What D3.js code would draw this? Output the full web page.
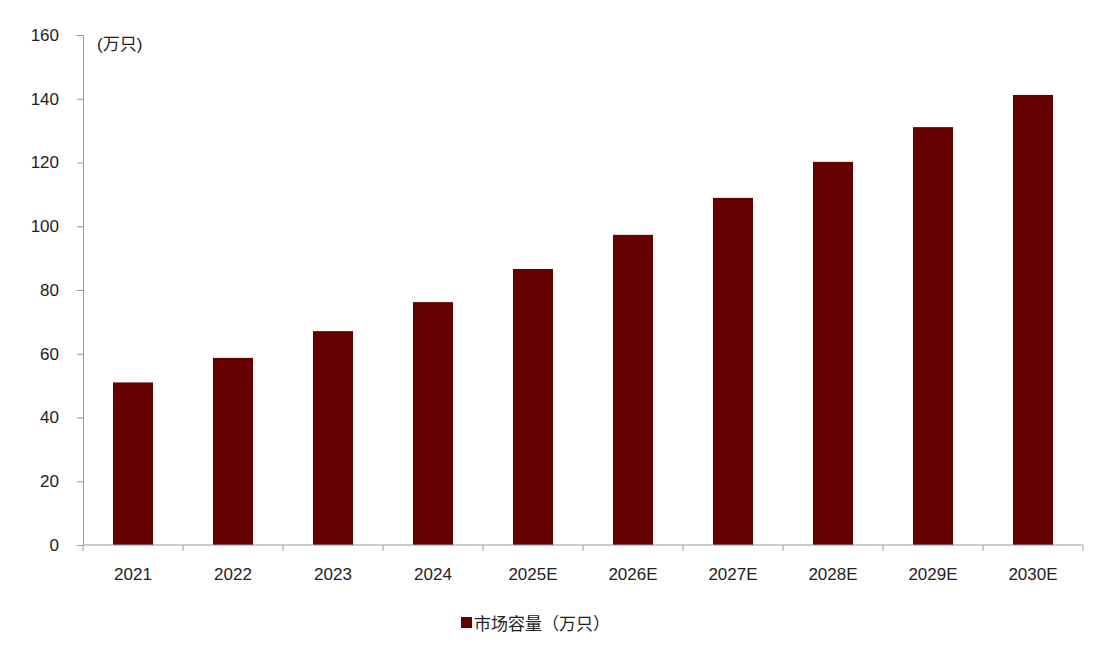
<!DOCTYPE html>
<html><head><meta charset="utf-8">
<script src="https://cdn.jsdelivr.net/npm/d3@7"></script>
<style>body{margin:0;background:#fff;}text{font-family:Arial,"Liberation Sans","Noto Sans CJK SC",sans-serif;}</style>
</head><body><svg id="c" width="1095" height="648"></svg>
<script>
const categories=["2021","2022","2023","2024","2025E","2026E","2027E","2028E","2029E","2030E"];
const values=[51,58.7,67.1,76.2,86.6,97.3,108.9,120.2,131.1,141.2];
const yTicks=[0,20,40,60,80,100,120,140,160];
const seriesName="市场容量（万只）";
const unitLabel="(万只)";
const color="#660000";
const svg=d3.select("#c");
const L=83,R=1083,T=35,B=545;
const x=d3.scaleBand().domain(categories).range([L,R]).paddingInner(0.6).paddingOuter(0.3);
const xb=d3.scaleBand().domain(categories).range([L,R]);
const y=d3.scaleLinear().domain([0,160]).range([B,T]);
svg.selectAll("rect.bar").data(values).join("rect").attr("class","bar")
 .attr("x",(d,i)=>xb(categories[i])+xb.bandwidth()/2-20).attr("width",40)
 .attr("y",d=>y(d)).attr("height",d=>B-y(d)).attr("fill",color);
const ax=svg.append("g").attr("transform",`translate(${L},0)`).call(d3.axisLeft(y).tickValues(yTicks).tickSize(6).tickPadding(18));
ax.selectAll("text").attr("font-size",17).attr("fill","#222");
ax.selectAll("line,path").attr("stroke","#999");
const gx=svg.append("g").attr("transform",`translate(0,${B})`);
gx.append("line").attr("x1",L).attr("x2",R).attr("stroke","#999");
gx.selectAll("line.t").data(d3.range(categories.length+1)).join("line").attr("class","t")
 .attr("x1",i=>L+i*xb.step()).attr("x2",i=>L+i*xb.step()).attr("y1",0).attr("y2",6).attr("stroke","#999");
gx.selectAll("text").data(categories).join("text").attr("x",d=>xb(d)+xb.bandwidth()/2).attr("y",35)
 .attr("text-anchor","middle").attr("font-size",17).attr("fill","#222").text(d=>d);
svg.append("text").attr("x",97).attr("y",50).attr("font-size",17).attr("fill","#222").text(unitLabel);
const lg=svg.append("g");
lg.append("rect").attr("x",461).attr("y",617).attr("width",11).attr("height",11).attr("fill",color);
lg.append("text").attr("x",474).attr("y",630).attr("font-size",17).attr("fill","#222").text(seriesName);
</script></body></html>
